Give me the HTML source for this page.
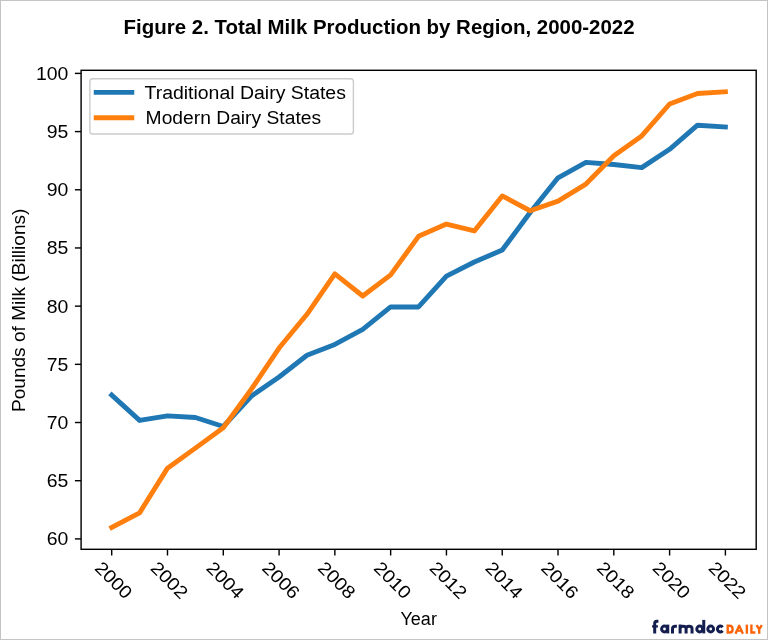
<!DOCTYPE html>
<html><head><meta charset="utf-8"><style>
html,body{margin:0;padding:0;background:#fff;}
body{width:768px;height:640px;overflow:hidden;position:relative;}
#frame{position:absolute;left:0;top:0;width:766px;height:638px;border:1px solid #c4c4c4;}
svg{position:absolute;left:0;top:0;will-change:transform;}
.t{font-family:"Liberation Sans",sans-serif;font-size:18px;fill:#000;}
.ti{font-family:"Liberation Sans",sans-serif;font-size:20px;font-weight:bold;fill:#000;}
</style></head><body>
<div id="frame"></div>
<svg width="768" height="640" viewBox="0 0 768 640">
<defs><clipPath id="ax"><rect x="81.10" y="70.30" width="675.10" height="479.00"/></clipPath></defs>
<rect x="81.1" y="70.3" width="675.10" height="479.00" fill="none" stroke="#000" stroke-width="1.42" stroke-linejoin="miter"/>
<line x1="74.90" y1="538.90" x2="81.10" y2="538.90" stroke="#000" stroke-width="1.42"/>
<text class="t" x="0" y="0" text-anchor="end" transform="translate(68.3 545.30) scale(1.08 1)">60</text>
<line x1="74.90" y1="480.71" x2="81.10" y2="480.71" stroke="#000" stroke-width="1.42"/>
<text class="t" x="0" y="0" text-anchor="end" transform="translate(68.3 487.11) scale(1.08 1)">65</text>
<line x1="74.90" y1="422.52" x2="81.10" y2="422.52" stroke="#000" stroke-width="1.42"/>
<text class="t" x="0" y="0" text-anchor="end" transform="translate(68.3 428.92) scale(1.08 1)">70</text>
<line x1="74.90" y1="364.34" x2="81.10" y2="364.34" stroke="#000" stroke-width="1.42"/>
<text class="t" x="0" y="0" text-anchor="end" transform="translate(68.3 370.74) scale(1.08 1)">75</text>
<line x1="74.90" y1="306.15" x2="81.10" y2="306.15" stroke="#000" stroke-width="1.42"/>
<text class="t" x="0" y="0" text-anchor="end" transform="translate(68.3 312.55) scale(1.08 1)">80</text>
<line x1="74.90" y1="247.96" x2="81.10" y2="247.96" stroke="#000" stroke-width="1.42"/>
<text class="t" x="0" y="0" text-anchor="end" transform="translate(68.3 254.36) scale(1.08 1)">85</text>
<line x1="74.90" y1="189.78" x2="81.10" y2="189.78" stroke="#000" stroke-width="1.42"/>
<text class="t" x="0" y="0" text-anchor="end" transform="translate(68.3 196.18) scale(1.08 1)">90</text>
<line x1="74.90" y1="131.59" x2="81.10" y2="131.59" stroke="#000" stroke-width="1.42"/>
<text class="t" x="0" y="0" text-anchor="end" transform="translate(68.3 137.99) scale(1.08 1)">95</text>
<line x1="74.90" y1="73.40" x2="81.10" y2="73.40" stroke="#000" stroke-width="1.42"/>
<text class="t" x="0" y="0" text-anchor="end" transform="translate(68.3 79.80) scale(1.08 1)">100</text>
<line x1="111.70" y1="549.30" x2="111.70" y2="555.50" stroke="#000" stroke-width="1.42"/>
<text class="t" x="0" y="6.4" text-anchor="middle" transform="translate(113.80 580.00) rotate(45) scale(1.1 1)">2000</text>
<line x1="167.49" y1="549.30" x2="167.49" y2="555.50" stroke="#000" stroke-width="1.42"/>
<text class="t" x="0" y="6.4" text-anchor="middle" transform="translate(169.59 580.00) rotate(45) scale(1.1 1)">2002</text>
<line x1="223.28" y1="549.30" x2="223.28" y2="555.50" stroke="#000" stroke-width="1.42"/>
<text class="t" x="0" y="6.4" text-anchor="middle" transform="translate(225.38 580.00) rotate(45) scale(1.1 1)">2004</text>
<line x1="279.07" y1="549.30" x2="279.07" y2="555.50" stroke="#000" stroke-width="1.42"/>
<text class="t" x="0" y="6.4" text-anchor="middle" transform="translate(281.17 580.00) rotate(45) scale(1.1 1)">2006</text>
<line x1="334.86" y1="549.30" x2="334.86" y2="555.50" stroke="#000" stroke-width="1.42"/>
<text class="t" x="0" y="6.4" text-anchor="middle" transform="translate(336.96 580.00) rotate(45) scale(1.1 1)">2008</text>
<line x1="390.65" y1="549.30" x2="390.65" y2="555.50" stroke="#000" stroke-width="1.42"/>
<text class="t" x="0" y="6.4" text-anchor="middle" transform="translate(392.75 580.00) rotate(45) scale(1.1 1)">2010</text>
<line x1="446.44" y1="549.30" x2="446.44" y2="555.50" stroke="#000" stroke-width="1.42"/>
<text class="t" x="0" y="6.4" text-anchor="middle" transform="translate(448.54 580.00) rotate(45) scale(1.1 1)">2012</text>
<line x1="502.23" y1="549.30" x2="502.23" y2="555.50" stroke="#000" stroke-width="1.42"/>
<text class="t" x="0" y="6.4" text-anchor="middle" transform="translate(504.33 580.00) rotate(45) scale(1.1 1)">2014</text>
<line x1="558.02" y1="549.30" x2="558.02" y2="555.50" stroke="#000" stroke-width="1.42"/>
<text class="t" x="0" y="6.4" text-anchor="middle" transform="translate(560.12 580.00) rotate(45) scale(1.1 1)">2016</text>
<line x1="613.81" y1="549.30" x2="613.81" y2="555.50" stroke="#000" stroke-width="1.42"/>
<text class="t" x="0" y="6.4" text-anchor="middle" transform="translate(615.91 580.00) rotate(45) scale(1.1 1)">2018</text>
<line x1="669.60" y1="549.30" x2="669.60" y2="555.50" stroke="#000" stroke-width="1.42"/>
<text class="t" x="0" y="6.4" text-anchor="middle" transform="translate(671.70 580.00) rotate(45) scale(1.1 1)">2020</text>
<line x1="725.39" y1="549.30" x2="725.39" y2="555.50" stroke="#000" stroke-width="1.42"/>
<text class="t" x="0" y="6.4" text-anchor="middle" transform="translate(727.49 580.00) rotate(45) scale(1.1 1)">2022</text>
<polyline clip-path="url(#ax)" points="111.70,395.06 139.59,420.43 167.49,415.89 195.38,417.52 223.28,426.48 251.18,396.22 279.07,377.02 306.96,355.26 334.86,344.44 362.75,329.42 390.65,306.96 418.54,306.96 446.44,276.13 474.33,262.04 502.23,250.06 530.12,212.47 558.02,177.79 585.91,162.43 613.81,164.52 641.71,167.66 669.60,149.28 697.50,125.19 725.39,126.93" fill="none" stroke="#1f77b4" stroke-width="4.9" stroke-linejoin="round" stroke-linecap="square"/>
<polyline clip-path="url(#ax)" points="111.70,527.50 139.59,512.83 167.49,468.14 195.38,448.13 223.28,427.76 251.18,389.47 279.07,348.04 306.96,314.30 334.86,273.91 362.75,296.03 390.65,274.85 418.54,236.32 446.44,224.11 474.33,230.97 502.23,195.94 530.12,210.72 558.02,201.06 585.91,184.07 613.81,155.68 641.71,135.89 669.60,104.01 697.50,93.53 725.39,91.79" fill="none" stroke="#ff7f0e" stroke-width="4.9" stroke-linejoin="round" stroke-linecap="square"/>
<rect x="89.9" y="78.8" width="263.5" height="55.2" rx="2.8" ry="2.8" fill="#fff" fill-opacity="0.8" stroke="#cccccc" stroke-width="1.42"/>
<line x1="96.2" y1="92.4" x2="131.8" y2="92.4" stroke="#1f77b4" stroke-width="4.9" stroke-linecap="square"/>
<line x1="96.2" y1="117.7" x2="131.8" y2="117.7" stroke="#ff7f0e" stroke-width="4.9" stroke-linecap="square"/>
<text class="t" x="144.5" y="98.75" textLength="201.4" lengthAdjust="spacingAndGlyphs">Traditional Dairy States</text>
<text class="t" x="145.6" y="123.5" textLength="175.5" lengthAdjust="spacingAndGlyphs">Modern Dairy States</text>
<text class="t" x="418.7" y="624.5" text-anchor="middle">Year</text>
<text class="t" x="-101.75" y="0" textLength="203.5" lengthAdjust="spacingAndGlyphs" transform="translate(24.6 310.3) rotate(-90)">Pounds of Milk (Billions)</text>
<text class="ti" x="123.6" y="33.8" textLength="511" lengthAdjust="spacingAndGlyphs">Figure 2. Total Milk Production by Region, 2000-2022</text>
<g fill="none" stroke="#141f4f" stroke-width="3.0" stroke-linecap="butt">
<path d="M654.7,633.4 V623.4 Q654.7,621.25 656.9,621.25 H658.4"/>
<path d="M652.1,626.4 H657.9" stroke-width="2.3"/>
<circle cx="664.5" cy="629" r="2.9"/>
<path d="M667.75,624.6 V633.4"/>
<path d="M672.5,633.4 V628.8 Q672.5,626.2 675.5,626.2 H676.9"/>
<path d="M680.1,624.6 V633.4 M680.1,628.8 Q680.1,626.2 683.1,626.2 Q686.1,626.2 686.1,628.8 V633.4 M686.1,628.8 Q686.1,626.2 689.1,626.2 Q692.05,626.2 692.05,628.8 V633.4"/>
<circle cx="699.7" cy="629" r="2.9"/>
<path d="M703.75,619.9 V633.4"/>
<circle cx="710.7" cy="629" r="2.9"/>
<path d="M722.6,627.2 A2.9,2.9 0 1 0 722.6,630.8"/>
</g>
<g fill="none" stroke="#fa650a" stroke-width="2.4" stroke-linecap="butt" stroke-linejoin="miter">
<path d="M727.7,625.8 H729.6 Q732.6,625.8 732.6,629.15 Q732.6,632.5 729.6,632.5 H727.7 Z"/>
<path d="M735.5,633.7 L739.2,625.8 L742.9,633.7" stroke-linejoin="round"/>
<path d="M737.2,630.9 H741.3" stroke-width="1.8"/>
<path d="M746.85,624.6 V633.7"/>
<path d="M751.4,624.6 V632.5 H755.4"/>
<path d="M756.6,625.2 L759.2,629.3 L761.8,625.2 M759.2,629.3 V633.7"/>
</g>
</svg>
</body></html>
